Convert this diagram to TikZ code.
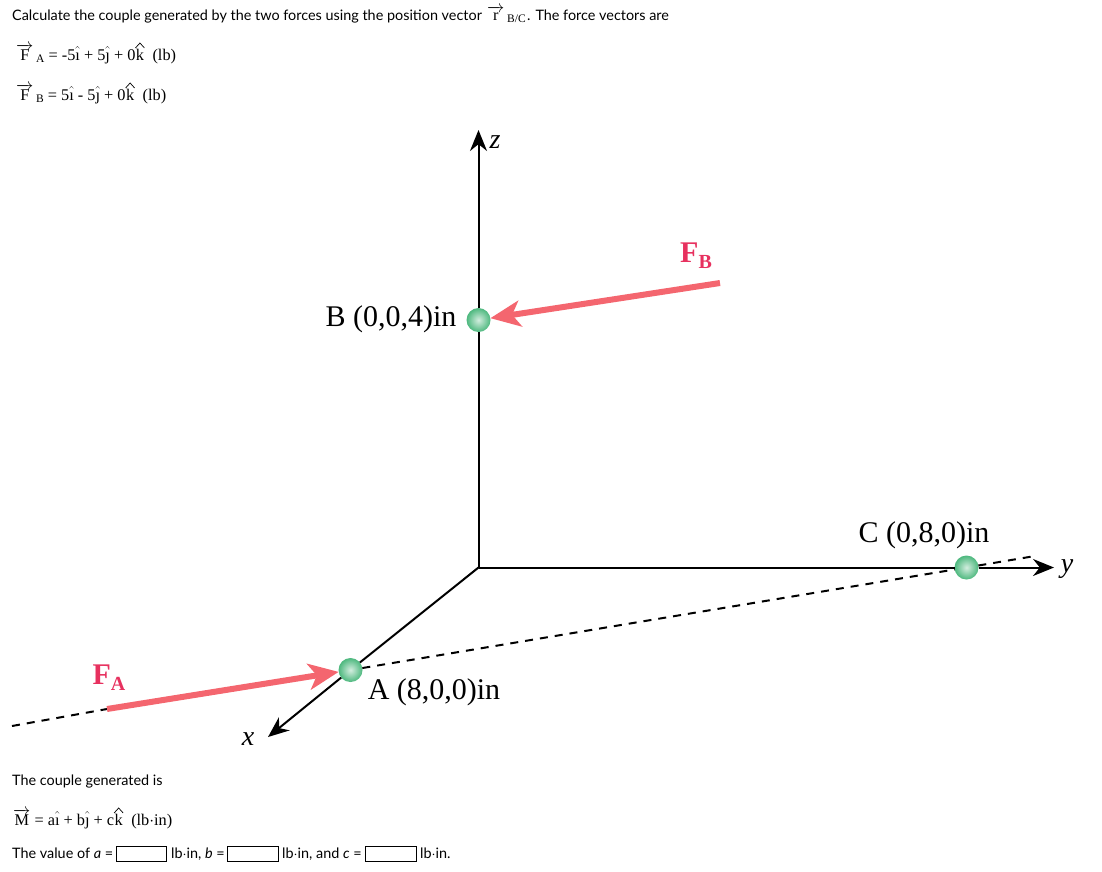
\documentclass[tikz,border=0pt]{standalone}
\usepackage{fontspec}
\setmainfont{Liberation Serif}
\newfontfamily\promptfont{Lato}
\usetikzlibrary{arrows.meta}

\definecolor{forcered}{HTML}{F4666F}
\definecolor{labelred}{HTML}{E7315F}
\definecolor{ballgreen}{HTML}{4DB87E}

\newcommand{\vecbar}[1]{$\overrightarrow{\mbox{#1}}$}
\newcommand{\hati}{$\hat{\mbox{\rule{0pt}{0.56em}\i}}$}
\newcommand{\hatj}{$\hat{\mbox{\rule{0pt}{0.56em}\j}}$}
\newcommand{\lowsub}[1]{\raisebox{-2pt}{\fontsize{11.5}{12}\selectfont #1}}
\newcommand{\hatover}[1]{\draw[hatline] ([shift={(-4.5,-0.5)}]#1.north) -- ([shift={(0,-5.5)}]#1.north) -- ([shift={(4.5,-0.5)}]#1.north);}

\tikzset{
    prompt/.style={anchor=base west, inner sep=0pt, font=\promptfont\fontsize{14.4}{17}\selectfont},
    formula/.style={anchor=base west, inner sep=0pt, font=\fontsize{16.3}{19}\selectfont},
    ptlabel/.style={inner sep=0pt, font=\fontsize{30}{34}\selectfont},
    axlabel/.style={inner sep=0pt, font=\fontsize{28}{30}\selectfont\itshape},
    forcelabel/.style={inner sep=0pt, text=labelred, font=\fontsize{30}{34}\selectfont\bfseries},
    ball/.style={circle, minimum size=24pt, inner sep=0pt, outer sep=0pt, inner color=ballgreen!25, outer color=ballgreen},
    axis/.style={draw=black, line width=2pt, -{Stealth[length=21pt, width=17pt]}},
    axisplain/.style={draw=black, line width=2pt},
    dashline/.style={draw=black, line width=2pt, dash pattern=on 8pt off 7pt},
    force/.style={draw=forcered, line width=6pt, -{Stealth[length=30pt, width=26pt, inset=8pt]}},
    hatline/.style={draw=black, line width=0.7pt},
    answerbox/.style={draw=black, line width=0.8pt, anchor=north west, inner sep=0pt, minimum height=15pt}
}

\begin{document}
\begin{tikzpicture}[x=1pt, y=-1pt]
    \useasboundingbox (0,0) rectangle (1102,871);

    \node[prompt] (intro) at (12,20) {Calculate the couple generated by the two forces using the position vector};
    \node[formula] (rbc) at (487,20) {\vecbar{\rule{0pt}{0.5em}r}\,\lowsub{B/C}};
    \node[prompt] (introend) at (527,20) {. The force vectors are};

    \node[formula] (eqa) at (16,60) {\vecbar{F}\,\lowsub{A} = -5\hati{} + 5\hatj{} + 0};
    \node[formula] (ka) at (eqa.base east) {k};
    \node[formula] (unita) at (ka.base east) {\ \ (lb)};
    \hatover{ka}

    \node[formula] (eqb) at (16,100) {\vecbar{F}\,\lowsub{B} = 5\hati{} - 5\hatj{} + 0};
    \node[formula] (kb) at (eqb.base east) {k};
    \node[formula] (unitb) at (kb.base east) {\ \ (lb)};
    \hatover{kb}

    \coordinate (origin) at (478.5,567.5);
    \coordinate (ztip) at (478.5,130);
    \coordinate (ytip) at (1054,567.5);
    \coordinate (xtip) at (268,737);
    \coordinate (dashleft) at (12,726);
    \coordinate (dashright) at (1035,556);
    \coordinate (fastart) at (107,709);
    \coordinate (fbstart) at (720,283);

    \node[ball] (ballA) at (350.5,670) {};
    \node[ball] (ballB) at (478.5,320) {};
    \node[ball] (ballC) at (966.5,567.5) {};

    \draw[axisplain] (origin) -- (ballB);
    \draw[axis] (ballB) -- (ztip);
    \draw[axisplain] (origin) -- (ballC);
    \draw[axis] (ballC) -- (ytip);
    \draw[axisplain] (origin) -- (ballA);
    \draw[axis] (ballA) -- (xtip);

    \draw[dashline] (dashleft) -- (fastart);
    \draw[dashline] (ballA) -- (ballC);
    \draw[dashline] (ballC) -- (dashright);

    \draw[force] (fastart) -- (ballA);
    \draw[force] (fbstart) -- (ballB);

    \node[axlabel] (zlabel) at (495,142) {z};
    \node[axlabel] (ylabel) at (1067,569) {y};
    \node[axlabel] (xlabel) at (248,739) {x};

    \node[ptlabel] (labelA) at (434,692) {A (8,0,0)in};
    \node[ptlabel] (labelB) at (391,319) {B (0,0,4)in};
    \node[ptlabel] (labelC) at (924,535) {C (0,8,0)in};

    \node[forcelabel] (labelFA) at (109,678) {F\raisebox{-6pt}{\fontsize{20}{20}\selectfont A}};
    \node[forcelabel] (labelFB) at (696,256) {F\raisebox{-6pt}{\fontsize{20}{20}\selectfont B}};

    \node[prompt] (couple) at (12,785) {The couple generated is};

    \node[formula] (eqm) at (13,825) {\vecbar{M} = a\hati{} + b\hatj{} + c};
    \node[formula] (km) at (eqm.base east) {k};
    \node[formula] (unitm) at (km.base east) {\ \ (lb$\cdot$in)};
    \hatover{km}

    \node[prompt] (valuea) at (12,858) {The value of \textit{a} =};
    \node[answerbox, minimum width=50pt] (boxa) at (116,846) {};
    \node[prompt] (valueb) at (171,858) {lb$\cdot$in, \textit{b} =};
    \node[answerbox, minimum width=51pt] (boxb) at (227,846) {};
    \node[prompt] (valuec) at (282,858) {lb$\cdot$in, and \textit{c} =};
    \node[answerbox, minimum width=51pt] (boxc) at (365,846) {};
    \node[prompt] (valueend) at (420,858) {lb$\cdot$in.};
\end{tikzpicture}
\end{document}
